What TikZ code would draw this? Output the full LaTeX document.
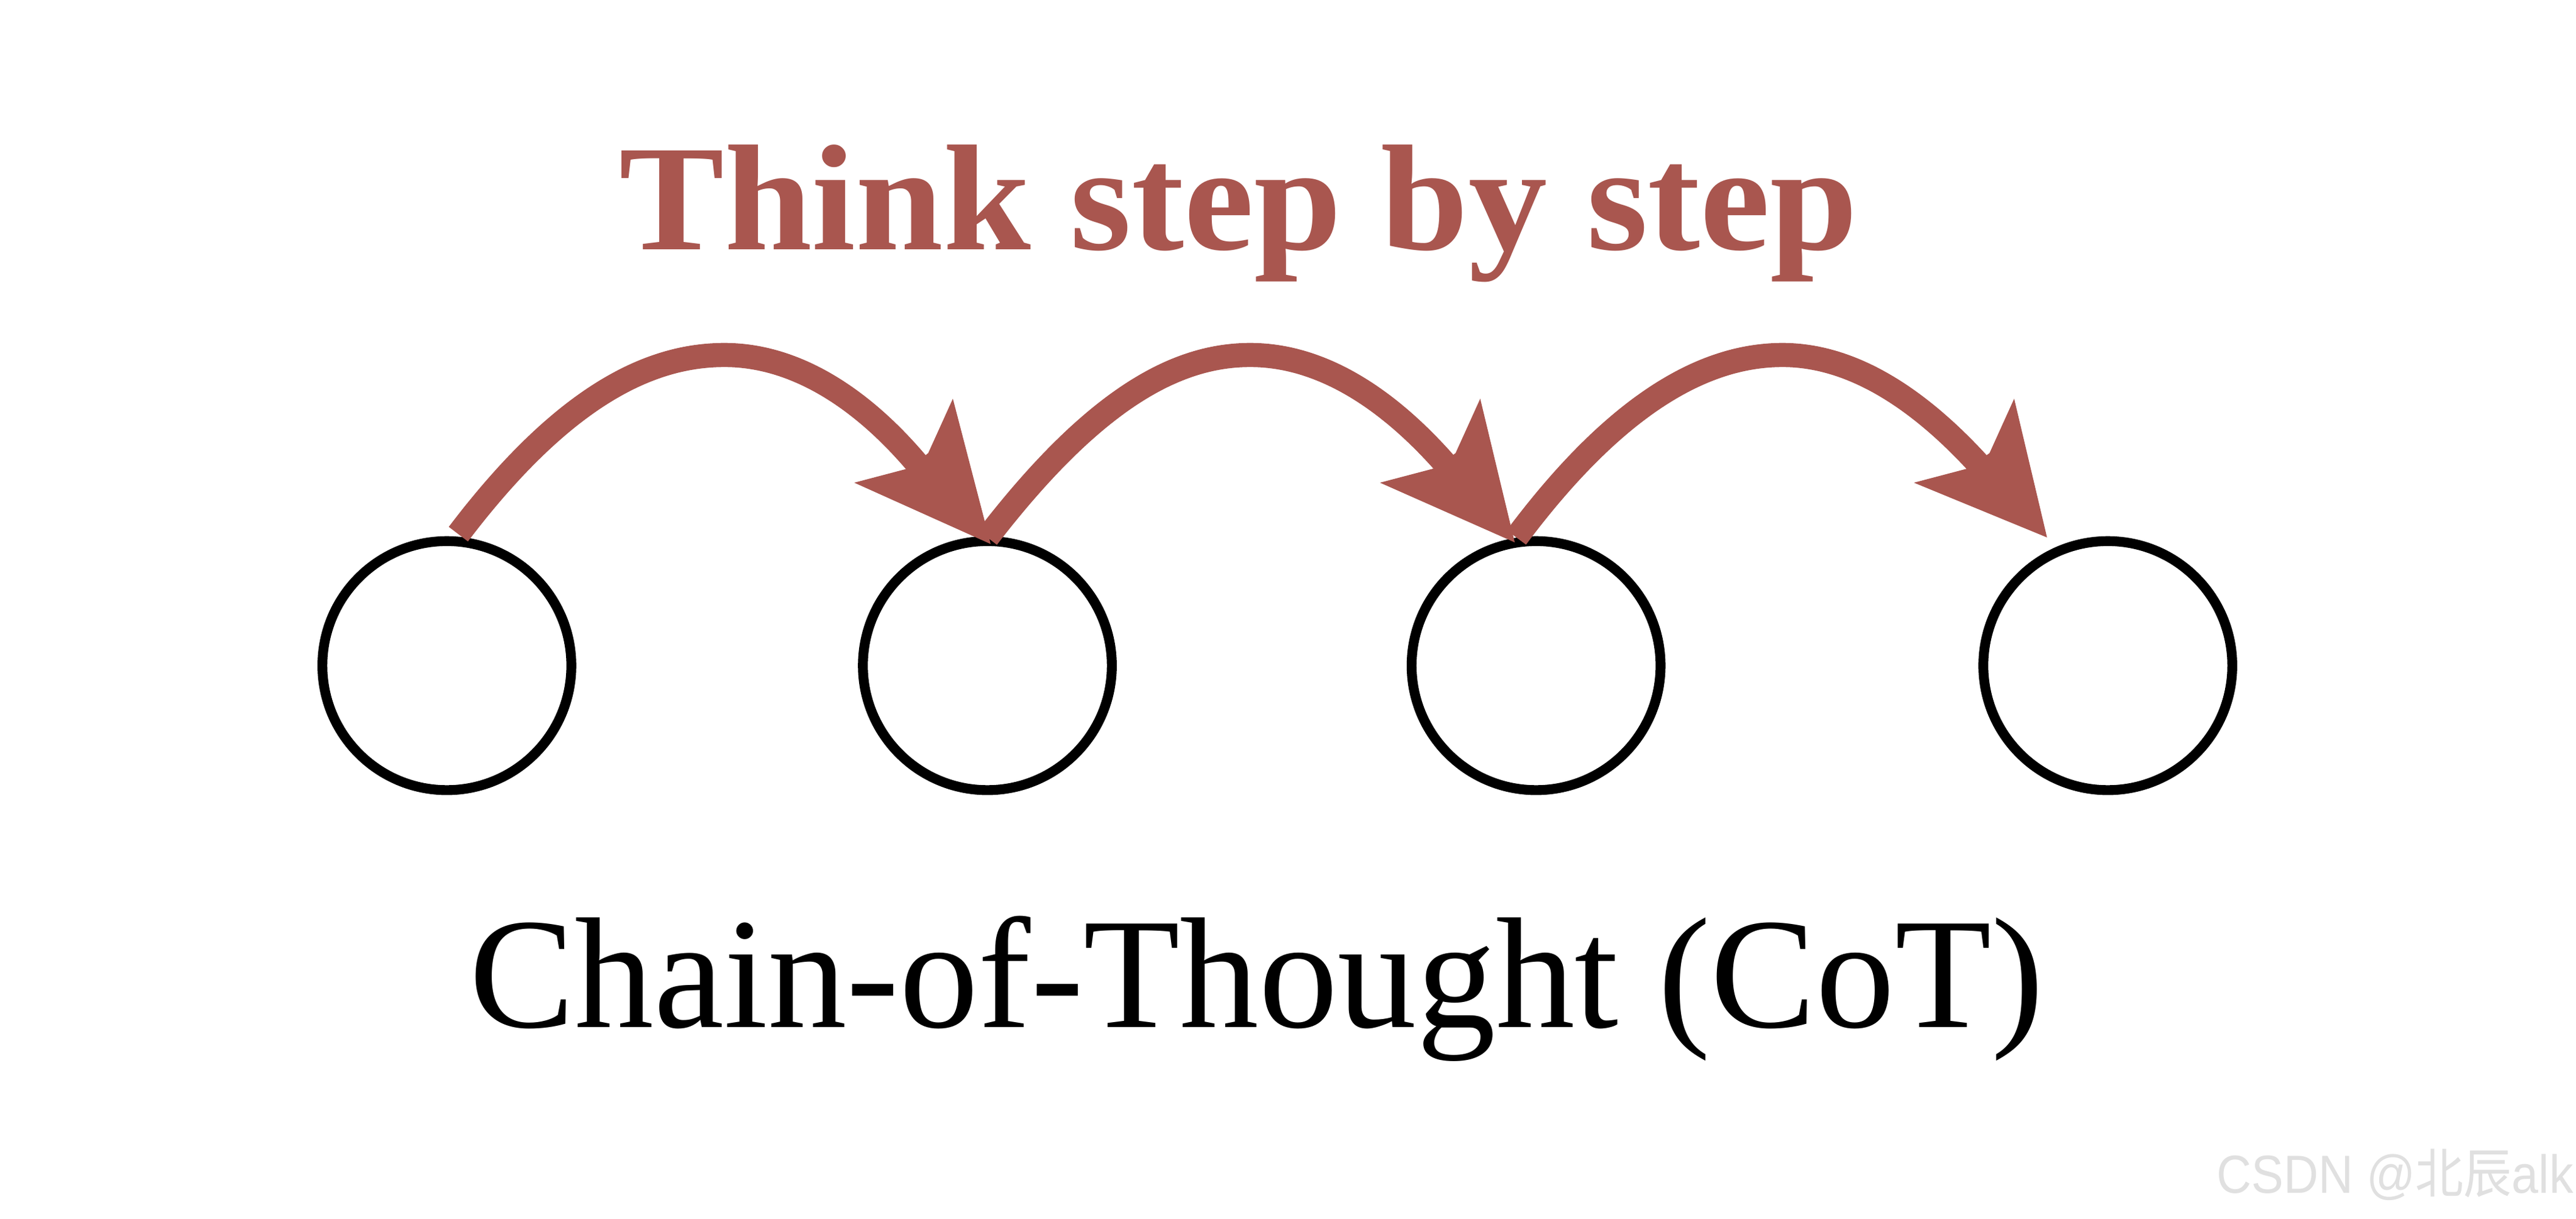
\documentclass[tikz,border=0pt]{standalone}
\usepackage{fontspec}
\setmainfont{Liberation Serif}
\newfontfamily\cjk{Noto Sans CJK SC}
\newfontfamily\wm{Liberation Sans}
\definecolor{redb}{HTML}{A9564F}
\definecolor{wmc}{HTML}{E0E0E0}
\tikzset{
  thought/.style={circle,draw=black,line width=4.5pt,minimum size=4cm,inner sep=0pt},
  jump/.style={draw=redb,line width=11pt},
  tip/.style={fill=redb,draw=none},
}
\begin{document}
\begin{tikzpicture}[x=0.0264cm,y=-0.0264cm]
\useasboundingbox (0,0) rectangle (1568,741.7);
\fill[white] (0,0) rectangle (1568,741.7);
\node[thought] (n1) at (272,405) {};
\node[thought] (n2) at (601,405) {};
\node[thought] (n3) at (935,405) {};
\node[thought] (n4) at (1283,405) {};
\coordinate (s1) at (279,325);
\coordinate (s2) at (601,327);
\coordinate (s3) at (923,327);
\coordinate (e1) at (570,297);
\coordinate (e2) at (892,297);
\coordinate (e3) at (1217,297);
\draw[jump] (s1) .. controls (345,238) and (398,216) .. (441,216) .. controls (490,216) and (535,250) .. (e1);
\draw[jump] (s2) .. controls (668,240) and (718,216) .. (761,216) .. controls (810,216) and (855,250) .. (e2);
\draw[jump] (s3) .. controls (988,240) and (1042,216) .. (1085,216) .. controls (1133,216) and (1178,250) .. (e3);
\fill[tip] (520,293.7) -- (553,285) -- (565,275.7) -- (580,242.6) -- (603,331) -- cycle;
\fill[tip] (840,293.7) -- (873,285) -- (886,275.7) -- (901,242.6) -- (922,330) -- cycle;
\fill[tip] (1165,293.7) -- (1198,285) -- (1211,275.7) -- (1226,242.6) -- (1246,327) -- cycle;
\node[font=\bfseries,text=redb,xscale=7.2,yscale=6.9,inner sep=0pt,anchor=base] (t) at (754,152) {Think step by step};
\node[text=black,scale=7.22,inner sep=0pt,anchor=base] (c) at (765,625) {Chain-of-Thought (CoT)};
\node[text=wmc,anchor=base east,inner sep=0pt,font=\wm,xscale=2.2,yscale=2.45] (w) at (1567,726) {CSDN @{\cjk 北辰}alk};
\end{tikzpicture}
\end{document}
